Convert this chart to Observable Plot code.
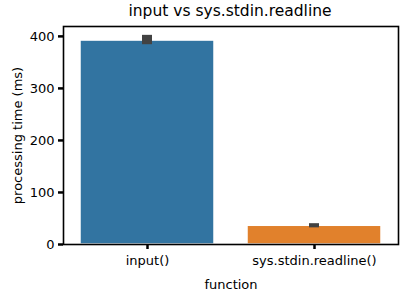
<!DOCTYPE html>
<html><head><meta charset="utf-8">
<script src="https://cdn.jsdelivr.net/npm/d3@7"></script>
<script src="https://cdn.jsdelivr.net/npm/@observablehq/plot@0.6"></script>
<style>
body{margin:0;background:#fff;font-family:"DejaVu Sans",sans-serif;}
#title{height:24px;width:413px;position:relative;}
#title span{position:absolute;left:230px;top:2px;transform:translateX(-50%);font-size:15.5px;white-space:nowrap;color:#000;}
</style>
</head><body>
<div id="title"><span>input vs sys.stdin.readline</span></div>
<div id="chart"></div>
<script>
const functions = ["input()", "sys.stdin.readline()"];
const times = [392, 36];
const ciLow = [384, 32];
const ciHigh = [402, 40];
const colors = ["#3274a1", "#e1812c"];
const yTicks = [0, 100, 200, 300, 400];

const data = functions.map((f, i) => ({f, t: times[i], lo: ciLow[i], hi: ciHigh[i], c: colors[i]}));

const chart = Plot.plot({
  width: 413,
  height: 273,
  marginTop: 2,
  marginBottom: 53,
  marginLeft: 63,
  marginRight: 15,
  style: {fontFamily: "DejaVu Sans, sans-serif", fontSize: "13px", color: "#000", background: "#fff"},
  x: {domain: functions, paddingInner: 0.2, paddingOuter: 0.1, label: "function", labelAnchor: "center", labelOffset: 44, labelArrow: "none", tickSize: 5, tickPadding: 6},
  y: {domain: [0, 419], ticks: yTicks, label: "processing time (ms)", labelAnchor: "center", labelOffset: 51, labelArrow: "none", tickSize: 5, tickPadding: 4},
  marks: [
    Plot.barY(data, {x: "f", y: "t", fill: "c", stroke: "white", strokeWidth: 1.5}),
    Plot.barY(data, {x: "f", y1: "lo", y2: "hi", fill: "#424242", insetLeft: 62, insetRight: 62}),
    Plot.frame({stroke: "#000", strokeWidth: 1.6})
  ]
});
chart.querySelectorAll('[aria-label="x-axis tick"] path, [aria-label="y-axis tick"] path').forEach(p => p.setAttribute("stroke-width", 2.5));
chart.querySelectorAll("text").forEach(t => { t.style.fontSize = "13px"; });
document.getElementById("chart").appendChild(chart);
</script>
</body></html>
